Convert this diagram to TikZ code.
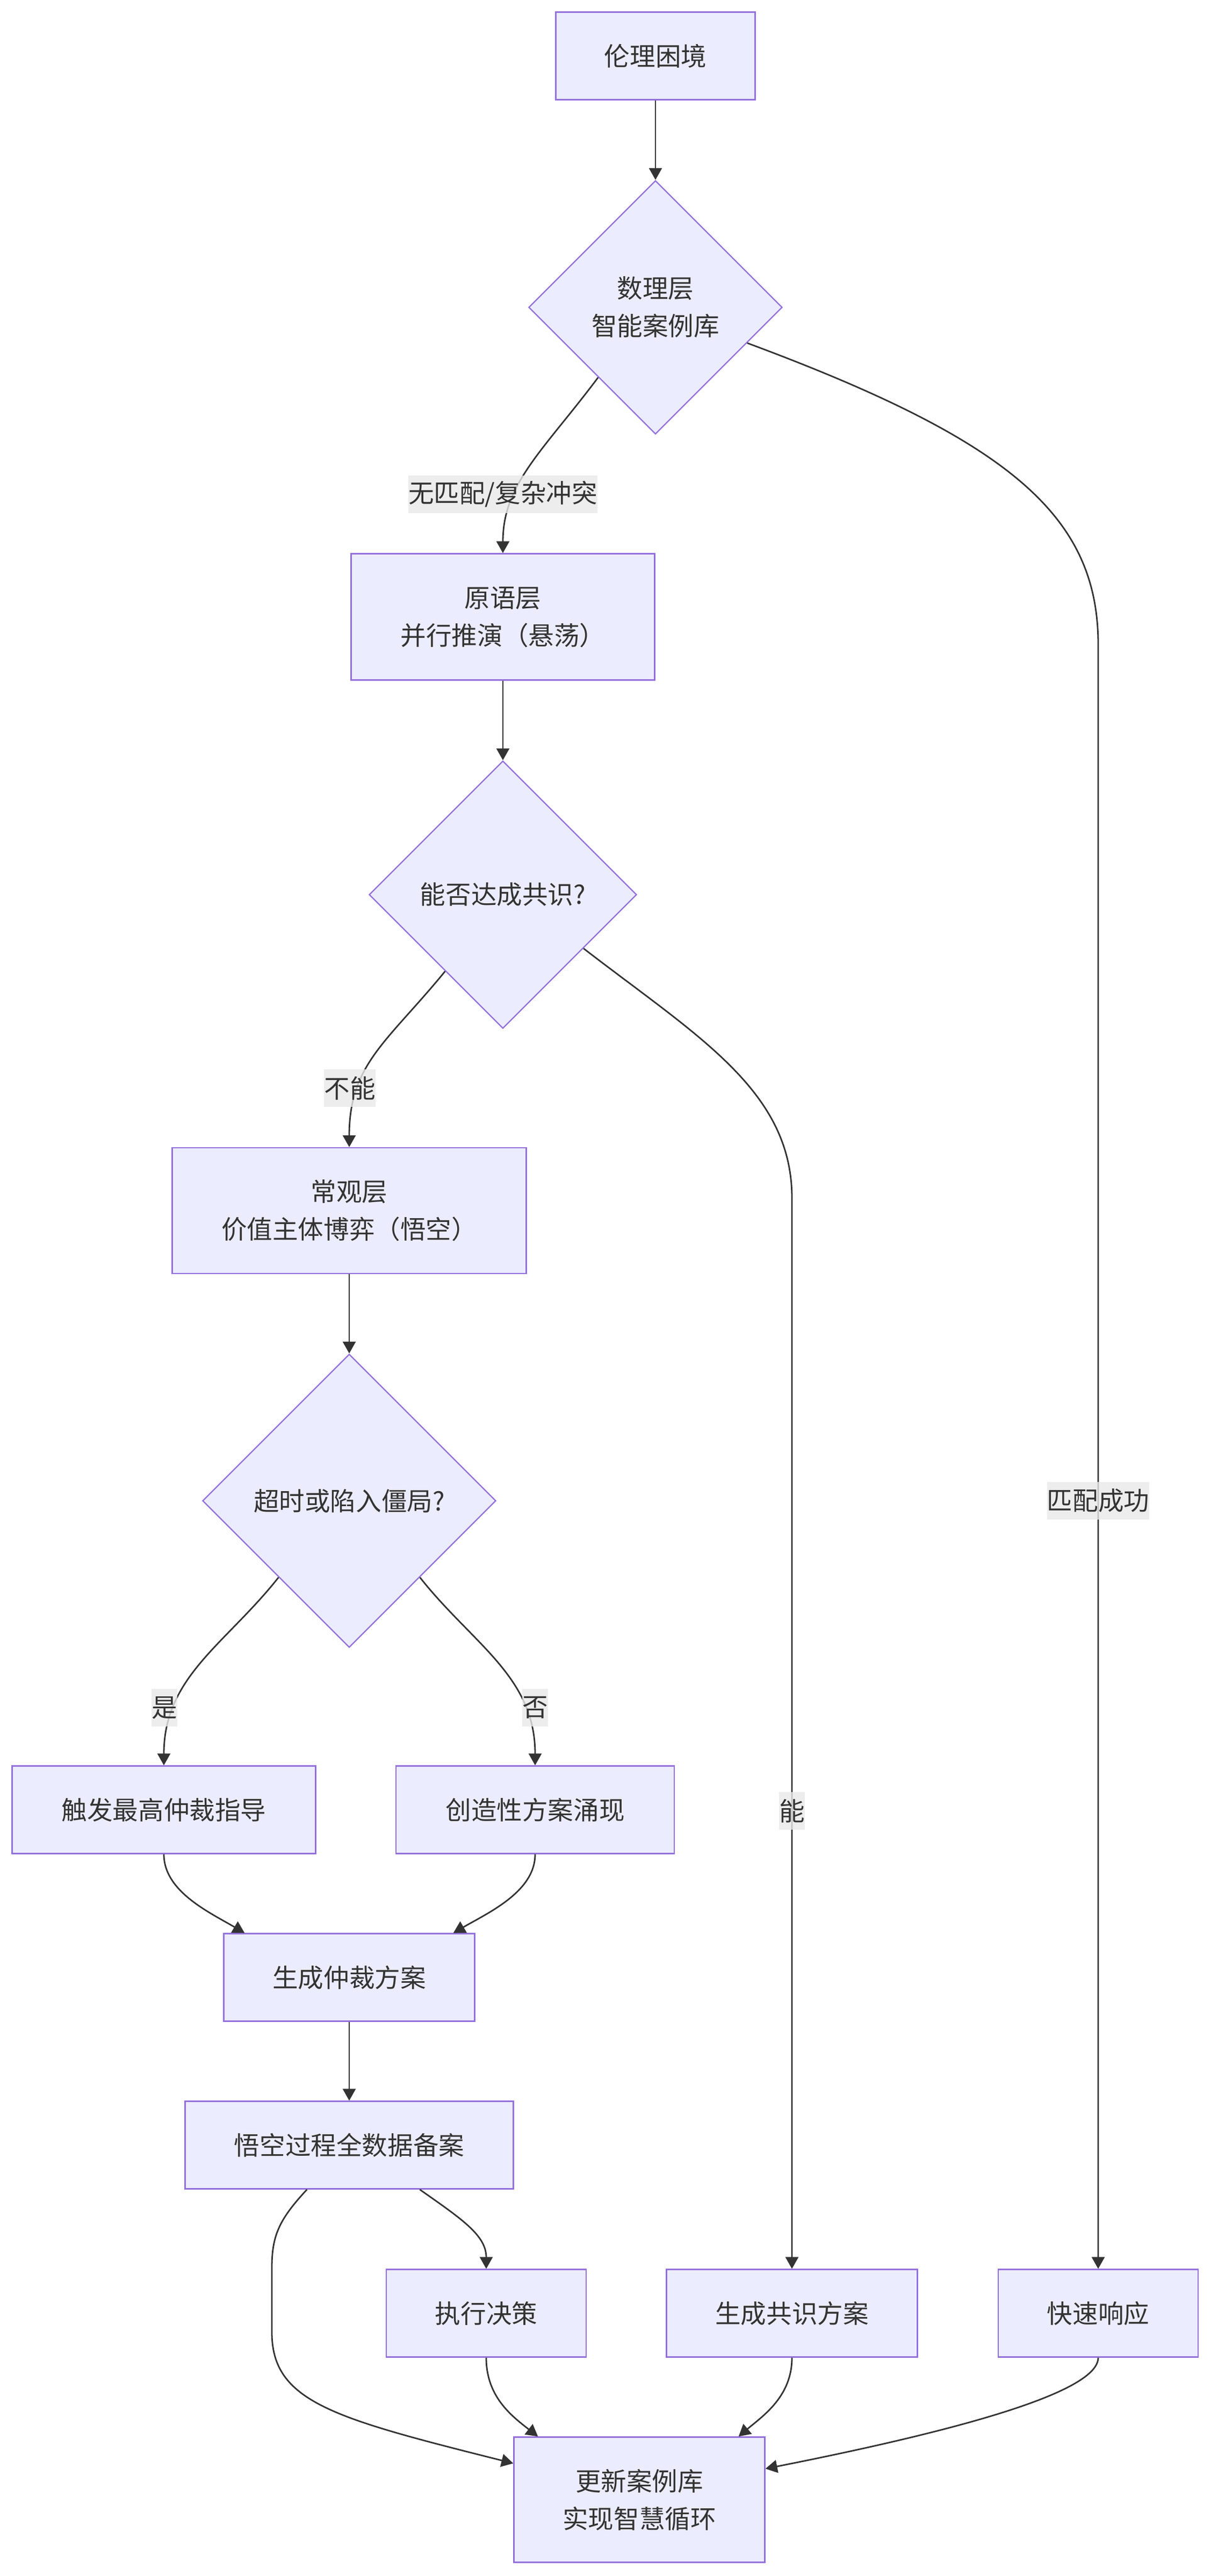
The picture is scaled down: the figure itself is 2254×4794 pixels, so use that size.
\documentclass[tikz,border=0pt]{standalone}
\usepackage{fontspec}
\newfontfamily\cjk{Noto Sans CJK SC}
\usetikzlibrary{shapes.geometric,arrows.meta,calc}
\definecolor{boxfill}{HTML}{ECECFF}
\definecolor{boxline}{HTML}{9370DB}
\definecolor{edgecol}{HTML}{333333}
\definecolor{lblbg}{HTML}{E8E8E8}
\begin{document}
\begin{tikzpicture}[x=0.25pt,y=-0.25pt,
  every node/.style={font=\cjk\fontsize{11.9pt}{17.5pt}\selectfont, text=edgecol},
  box/.style={draw=boxline, fill=boxfill, line width=0.6pt, inner sep=0pt, align=center, minimum height=40.75pt},
  decision/.style={diamond, aspect=1, draw=boxline, fill=boxfill, line width=0.6pt, inner sep=0pt, align=center},
  lbl/.style={fill=lblbg, fill opacity=0.8, text opacity=1, inner xsep=0pt, inner ysep=0pt, minimum height=17.5pt},
  arr/.style={draw=edgecol, line width=0.7pt, -{Triangle[width=6pt,length=5.5pt]}}
]
\useasboundingbox (0,0) rectangle (2254,4794);

% nodes
\node[box, minimum width=92.75pt] (A) at (1220,104) {伦理困境};
\node[decision, minimum width=118pt, minimum height=118pt] (B) at (1220,572) {数理层\\智能案例库};
\node[box, minimum width=141.25pt, minimum height=58.75pt] (C) at (936,1148) {原语层\\并行推演（悬荡）};
\node[decision, minimum width=124.5pt, minimum height=124.5pt] (D) at (936,1665) {能否达成共识?};
\node[box, minimum width=164.75pt, minimum height=58.5pt] (E) at (650,2253) {常观层\\价值主体博弈（悟空）};
\node[decision, minimum width=136.5pt, minimum height=136.5pt] (F) at (650,2793) {超时或陷入僵局?};
\node[box, minimum width=141.25pt] (H) at (305,3368) {触发最高仲裁指导};
\node[box, minimum width=129.5pt] (I) at (996,3368) {创造性方案涌现};
\node[box, minimum width=116.75pt] (J) at (650,3680) {生成仲裁方案};
\node[box, minimum width=152.75pt] (K) at (650,3992) {悟空过程全数据备案};
\node[box, minimum width=93pt] (L) at (905,4305) {执行决策};
\node[box, minimum width=116.75pt] (G) at (1474,4305) {生成共识方案};
\node[box, minimum width=93pt] (R) at (2044,4305) {快速响应};
\node[box, minimum width=116.75pt, minimum height=58.25pt] (M) at (1190,4652) {更新案例库\\实现智慧循环};

% exit points on diamonds
\coordinate (Bl) at ($(B.west)!0.55!(B.south)$);
\coordinate (Br) at ($(B.east)!0.28!(B.south)$);
\coordinate (Dl) at ($(D.west)!0.57!(D.south)$);
\coordinate (Dr) at ($(D.east)!0.4!(D.south)$);
\coordinate (Fl) at ($(F.west)!0.52!(F.south)$);
\coordinate (Fr) at ($(F.east)!0.52!(F.south)$);

% edges
\draw[arr] (A) -- (B);
\draw[arr] (Bl) .. controls (1010,840) and (936,900) .. (C.north);
\draw[arr] (Br) .. controls (1880,820) and (2044,960) .. (2044,1200) -- (R.north);
\draw[arr] (C) -- (D);
\draw[arr] (Dl) .. controls (720,1940) and (650,1980) .. (E.north);
\draw[arr] (Dr) .. controls (1300,1930) and (1474,2030) .. (1474,2230) -- (G.north);
\draw[arr] (E) -- (F);
\draw[arr] (Fl) .. controls (420,3060) and (305,3120) .. (H.north);
\draw[arr] (Fr) .. controls (880,3060) and (996,3120) .. (I.north);
\draw[arr] (H.south) .. controls (305,3520) and (390,3559) .. ($(J.north west)+(40,0)$);
\draw[arr] (I.south) .. controls (996,3520) and (910,3559) .. ($(J.north east)+(-41,0)$);
\draw[arr] (J) -- (K);
\draw[arr] ($(K.south west)+(228,0)$) .. controls (520,4130) and (506,4160) .. (506,4220) -- (506,4340) .. controls (506,4470) and (620,4500) .. ($(M.north west)+(0,50)$);
\draw[arr] ($(K.south west)+(438,0)$) .. controls (860,4130) and (905,4160) .. (L.north);
\draw[arr] (L.south) .. controls (905,4460) and (952,4496) .. ($(M.north west)+(46,0)$);
\draw[arr] (G.south) .. controls (1474,4460) and (1420,4496) .. ($(M.north east)+(-50,0)$);
\draw[arr] (R.south) .. controls (2044,4450) and (1800,4520) .. ($(M.north east)+(0,60)$);

% edge labels
\node[lbl] (l1) at (936,920) {无匹配/复杂冲突};
\node[lbl] (l2) at (2044,2793) {匹配成功};
\node[lbl] (l3) at (651,2025) {不能};
\node[lbl] (l4) at (1474,3370) {能};
\node[lbl] (l5) at (306,3178) {是};
\node[lbl] (l6) at (996,3178) {否};
\end{tikzpicture}
\end{document}
